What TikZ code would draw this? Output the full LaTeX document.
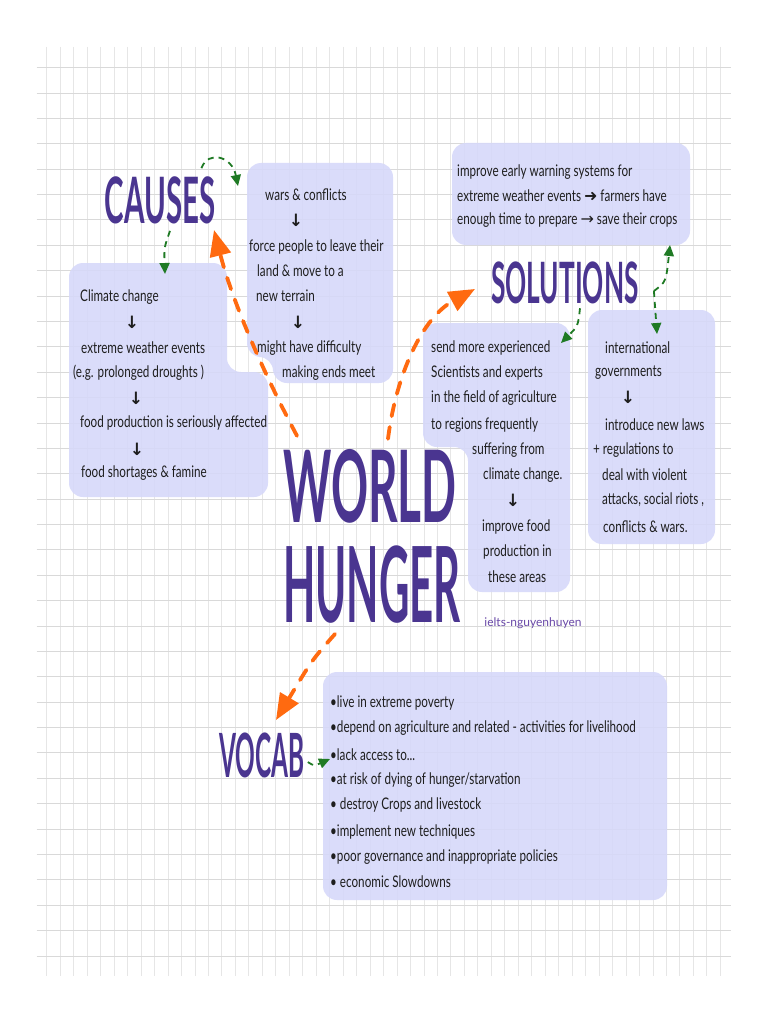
\documentclass[tikz,border=0pt]{standalone}
\usepackage{fontspec}
\setmainfont{Lato}
\newfontfamily\handfont[FakeStretch=0.73]{Lato}
\newfontfamily\titlefont[FakeStretch=0.46]{Lato}
\newfontfamily\slimtitlefont[FakeStretch=0.40]{Lato}
\newfontfamily\markfont{Lato}
\newfontfamily\arrowfont{DejaVu Sans}
\usetikzlibrary{arrows.meta}

\definecolor{gridh}{HTML}{D9D9D9}
\definecolor{gridv}{HTML}{E6E6E6}
\definecolor{bloblav}{HTML}{D6D8FA}
\definecolor{inkblack}{HTML}{1E1E1E}
\definecolor{hungerpurple}{HTML}{4A3590}
\definecolor{markpurple}{HTML}{6A4AA8}
\definecolor{arrowor}{HTML}{FF6A10}
\definecolor{arrowgr}{HTML}{1F7A24}

\begin{document}
\begin{tikzpicture}[x=1pt, y=-1pt,
    hand/.style={font=\handfont\fontsize{16}{16}\selectfont, text=inkblack, anchor=west, inner sep=0pt},
    down/.style={font=\arrowfont\bfseries\fontsize{17}{17}\selectfont, text=inkblack, inner sep=0pt},
    title/.style={font=\titlefont\bfseries\fontsize{#1}{#1}\selectfont, text=hungerpurple, inner sep=0pt},
    slimtitle/.style={font=\slimtitlefont\bfseries\fontsize{#1}{#1}\selectfont, text=hungerpurple, inner sep=0pt},
    blob/.style={fill=bloblav, fill opacity=0.88, rounded corners=14pt},
    orline/.style={draw=arrowor, line width=3.8pt, line cap=round, dash pattern=on 12pt off 11pt,
        -{Triangle[length=26pt, width=21pt, fill=arrowor]}},
    grline/.style={draw=arrowgr, line width=1.8pt, dash pattern=on 6pt off 5pt,
        -{Triangle[length=11pt, width=10pt, fill=arrowgr]}}]

\useasboundingbox (0,0) rectangle (768,1024);
\fill[white] (0,0) rectangle (768,1024);

% squared paper
\foreach \i in {0,...,50}
    \draw[gridv, line width=0.7pt] ({46.7+13.47*\i},47) -- ({46.7+13.47*\i},976);
\foreach \j in {0,...,35}
    \draw[gridh, line width=1pt] (36.7,{67.7+25.38*\j}) -- (730.7,{67.7+25.38*\j});

% highlighter blobs
\fill[blob] (69,263) -- (227,263) -- (227,372) -- (268,372) -- (268,497) -- (69,497) -- cycle;
\fill[blob] (247,163) -- (393,163) -- (393,383) -- (273,383) -- (273,357) -- (247,357) -- cycle;
\fill[blob] (452,143) -- (690,143) -- (690,245) -- (452,245) -- cycle;
\fill[blob] (423,323) -- (570,323) -- (570,592) -- (468,592) -- (468,447) -- (423,447) -- cycle;
\fill[blob] (588,310) -- (715,310) -- (715,544) -- (588,544) -- cycle;
\fill[blob] (323,672) -- (667,672) -- (667,900) -- (323,900) -- cycle;

% titles
\node[title=64] (causes) at (160,200) {CAUSES};
\node[title=57] (solutions) at (565,283) {SOLUTIONS};
\node[title=100] (world) at (370,486) {WORLD};
\node[slimtitle=105] (hunger) at (372,585) {HUNGER};
\node[slimtitle=61] (vocab) at (262,755) {VOCAB};
\node[font=\markfont\fontsize{12}{12}\selectfont, text=markpurple, inner sep=0pt] (mark) at (533,623) {ielts-nguyenhuyen};

% causes
\node[hand] (climate) at (80,297) {Climate change};
\node[down] (cdown1) at (132,322) {↓};
\node[hand] (weather) at (81,348) {extreme weather events};
\node[hand] (drought) at (73,373) {(e.g. prolonged droughts )};
\node[down] (cdown2) at (136,398) {↓};
\node[hand] (foodprod) at (80,423) {food production is seriously affected};
\node[down] (cdown3) at (137,449) {↓};
\node[hand] (famine) at (81,473) {food shortages \& famine};

\node[hand] (wars) at (265,195) {wars \& conflicts};
\node[down] (wdown1) at (296,220) {↓};
\node[hand] (force) at (249,247) {force people to leave their};
\node[hand] (land) at (257,271) {land \& move to a};
\node[hand] (terrain) at (256,296) {new terrain};
\node[down] (wdown2) at (298,322) {↓};
\node[hand] (difficulty) at (257,348) {might have difficulty};
\node[hand] (ends) at (282,373) {making ends meet};

% solutions
\node[hand] (warning) at (457,172) {improve early warning systems for};
\node[hand] (farmers) at (457,196) {extreme weather events {\arrowfont ➜} farmers have};
\node[hand] (crops) at (457,220) {enough time to prepare {\arrowfont →} save their crops};

\node[hand] (send) at (431,348) {send more experienced};
\node[hand] (experts) at (431,373) {Scientists and experts};
\node[hand] (field) at (431,398) {in the field of agriculture};
\node[hand] (regions) at (431,425) {to regions frequently};
\node[hand] (suffering) at (472,450) {suffering from};
\node[hand] (change) at (483,475) {climate change.};
\node[down] (sdown1) at (513,500) {↓};
\node[hand] (improve) at (482,527) {improve food};
\node[hand] (production) at (483,552) {production in};
\node[hand] (areas) at (488,577) {these areas};

\node[hand] (intl) at (605,348) {international};
\node[hand] (govts) at (595,373) {governments};
\node[down] (sdown2) at (628,397) {↓};
\node[hand] (laws) at (605,425) {introduce new laws};
\node[hand] (regs) at (593,450) {+ regulations to};
\node[hand] (violent) at (602,475) {deal with violent};
\node[hand] (riots) at (602,500) {attacks, social riots ,};
\node[hand] (conflicts) at (603,527) {conflicts \& wars.};

% vocab
\node[hand] (v1) at (330,703) {•live in extreme poverty};
\node[hand] (v2) at (330,728) {•depend on agriculture and related - activities for livelihood};
\node[hand] (v3) at (330,755) {•lack access to...};
\node[hand] (v4) at (330,780) {•at risk of dying of hunger/starvation};
\node[hand] (v5) at (330,805) {• destroy Crops and livestock};
\node[hand] (v6) at (330,832) {•implement new techniques};
\node[hand] (v7) at (330,857) {•poor governance and inappropriate policies};
\node[hand] (v8) at (330,882) {• economic Slowdowns};

% arrow ends
\coordinate (warstop) at (238,186);
\coordinate (climatetop) at (165,274);
\coordinate (causestip) at (214,230);
\coordinate (solutionstip) at (475,289);
\coordinate (toptip) at (670,245);
\coordinate (righttip) at (657,334);
\coordinate (midtip) at (561,343);
\coordinate (vocabtip) at (276,720);
\coordinate (listtip) at (330,759);

\draw[grline] ([xshift=-14pt,yshift=8pt]causes.north east) .. controls (208,150) and (232,156) .. (warstop);
\draw[grline] ([xshift=10pt,yshift=-7pt]causes.south) .. controls (164,248) .. (climatetop);
\draw[orline] ([xshift=-73pt,yshift=13pt]world.north) .. controls (262,370) and (232,300) .. (causestip);
\draw[orline] ([xshift=18pt,yshift=10pt]world.north) .. controls (396,375) and (422,318) .. (solutionstip);
\draw[grline] ([xshift=15pt,yshift=-8pt]solutions.east) .. controls (666,282) .. (toptip);
\draw[grline] ([xshift=15pt,yshift=-8pt]solutions.east) .. controls (655,306) .. (righttip);
\draw[grline] ([xshift=15pt,yshift=-4pt]solutions.south) .. controls (578,326) .. (midtip);
\draw[orline] ([xshift=-37pt,yshift=-10pt]hunger.south) .. controls (312,660) .. (vocabtip);
\draw[grline] ([xshift=3pt,yshift=-7pt]vocab.east) .. controls (314,766) .. (listtip);

\end{tikzpicture}
\end{document}
